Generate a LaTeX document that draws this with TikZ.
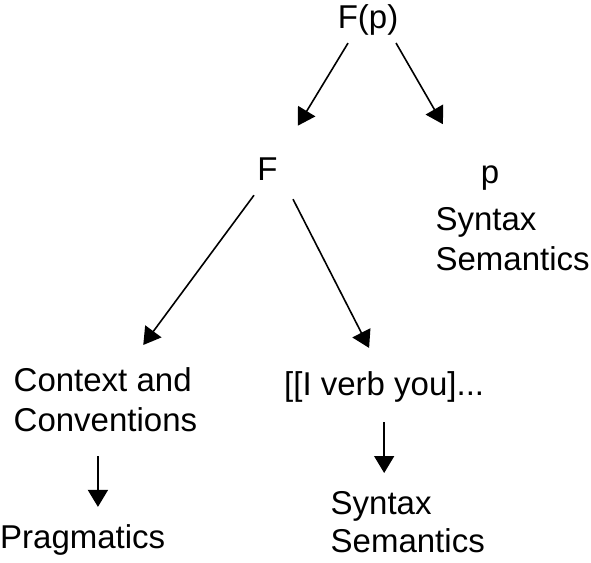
\documentclass[tikz,border=0pt]{standalone}
\usepackage{fontspec}
\setmainfont{Liberation Sans}
\usepackage{tikz}
\usetikzlibrary{arrows.meta, positioning}
\tikzstyle{arrow} = [line width=1.6pt, -{Triangle[length=17pt,width=20pt]}]

\begin{document}
\begin{tikzpicture}[
    x=1pt, y=-1pt,
    term/.style={inner sep=0pt, font=\fontsize{33}{40}\selectfont},
    stack/.style={term, align=left}
  ]
    \useasboundingbox (0,0) rectangle (591,562);

    % Top
    \node[term, anchor=base] (fp) at (368,28) {F(p)};
    \node[term, anchor=base] (f) at (267.5,180) {F};
    \node[term, anchor=base] (p) at (490,183) {p};
    \node[stack, anchor=north west] (syn1) at (435.4,207.6) {Syntax\\Semantics};

    % Bottom
    \node[stack, anchor=north west] (ctx) at (13.5,367.5) {Context and\\Conventions};
    \node[term, anchor=base west] (ivy) at (284,395) {[[I verb you]...};
    \node[term, anchor=base west] (prag) at (0,548) {Pragmatics};
    \node[stack, anchor=north west, font=\fontsize{33}{38}\selectfont] (syn2) at (330.5,491.3) {Syntax\\Semantics};

    \draw[arrow, shorten <=9.4pt, shorten >=36.8pt] ([xshift=-15.1pt]fp.south) -- ([xshift=11.3pt]f.north);
    \draw[arrow, shorten <=9.2pt, shorten >=47.2pt] ([xshift=23.4pt]fp.south) -- ([xshift=-23.5pt]p.north);
    \draw[arrow, shorten <=18.7pt, shorten >=28pt] ([xshift=-2.4pt]f.south) -- ([xshift=21.2pt]ctx.north);
    \draw[arrow, shorten <=21.3pt, shorten >=25.8pt] ([xshift=15.8pt]f.south) -- ([xshift=-3.3pt]ivy.north);

    \coordinate (ctxout) at ([xshift=-7.5pt]ctx.south);
    \coordinate (ivyout) at (ivy.south);
    \draw[arrow, shorten <=24pt, shorten >=17pt] (ctxout) -- (ctxout |- prag.north);
    \draw[arrow, shorten <=20pt, shorten >=18.3pt] (ivyout) -- (ivyout |- syn2.north);
\end{tikzpicture}
\end{document}
